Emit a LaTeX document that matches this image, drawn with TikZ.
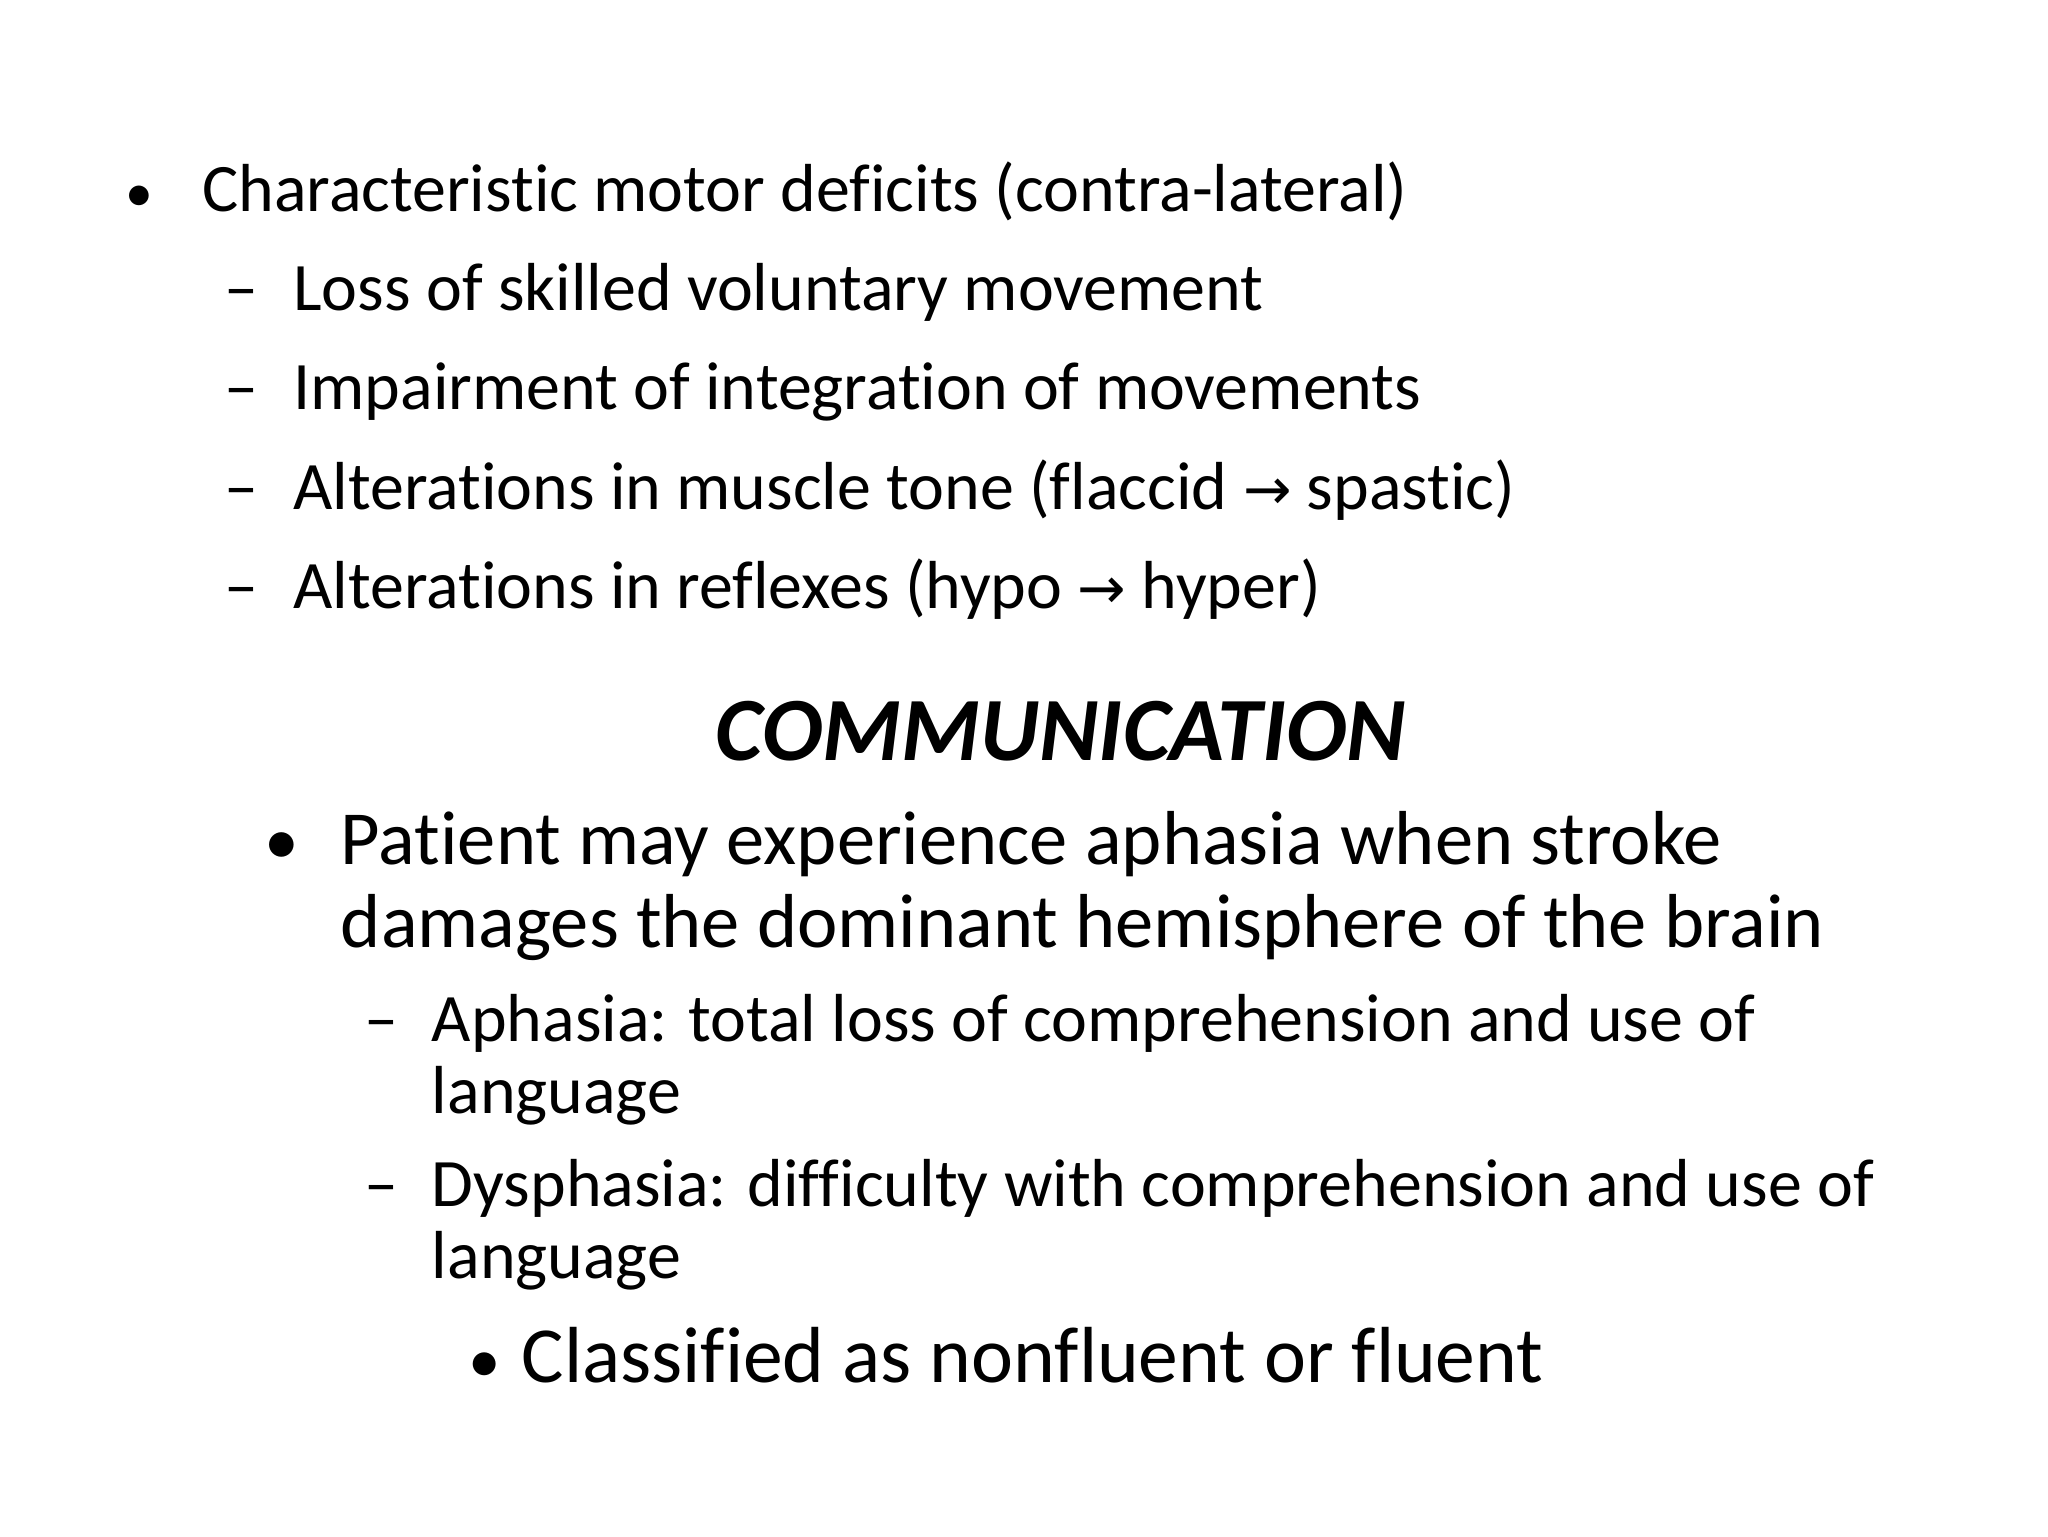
\documentclass[tikz,border=0pt]{standalone}
\usepackage{fontspec}
\setmainfont[Ligatures=CommonOff]{Carlito}
\newfontfamily\dv{DejaVu Sans}
\newcommand{\arr}{{\dv\fontsize{25}{30}\selectfont →}}
\newcommand{\bul}{{\fontsize{24}{30}\selectfont •}}
\begin{document}
\begin{tikzpicture}[x=0.02cm,y=-0.02cm,
  t/.style={anchor=base west,inner sep=0pt,font=\fontsize{29.3}{34}\selectfont},
  tb/.style={anchor=base west,inner sep=0pt,font=\fontsize{33}{40}\selectfont},
  tc/.style={anchor=base west,inner sep=0pt,font=\fontsize{34.3}{40}\selectfont}]
\useasboundingbox (0,0) rectangle (1552,1164);
\fill[white] (0,0) rectangle (1552,1164);
\node[t] (b1) at (95,160) {\bul};
\node[t] (l1) at (153,160) {Characteristic motor deficits (contra-lateral)};
\node[t] (d1) at (170,235) {–};
\node[t] (l2) at (222,235) {Loss of skilled voluntary movement};
\node[t] (d2) at (170,310) {–};
\node[t] (l3) at (222,310) {Impairment of integration of movements};
\node[t] (d3) at (170,386) {–};
\node[t] (l4) at (222,386) {Alterations in muscle tone (flaccid \arr\ spastic)};
\node[t] (d4) at (170,461) {–};
\node[t] (l5) at (222,461) {Alterations in reflexes (hypo \arr\ hyper)};
\node[anchor=base,inner sep=0pt,font=\fontsize{39}{48}\selectfont\bfseries\itshape] (h) at (804,576) {COMMUNICATION};
\node[tb] (b2) at (200,655) {\fontsize{30}{36}\selectfont •};
\node[tb] (p1) at (258,655) {Patient may experience aphasia when stroke};
\node[tb] (p2) at (258,718) {damages the dominant hemisphere of the brain};
\node[t] (d5) at (276,789) {–};
\node[t] (a1) at (327,789) {Aphasia: total loss of comprehension and use of};
\node[t] (a2) at (327,844) {language};
\node[t] (d6) at (276,914) {–};
\node[t] (y1) at (327,914) {Dysphasia: difficulty with comprehension and use of};
\node[t] (y2) at (327,969) {language};
\node[tc] (b3) at (355,1048) {\fontsize{28}{34}\selectfont •};
\node[tc] (c1) at (395,1048) {Classified as nonfluent or fluent};
\end{tikzpicture}
\end{document}
